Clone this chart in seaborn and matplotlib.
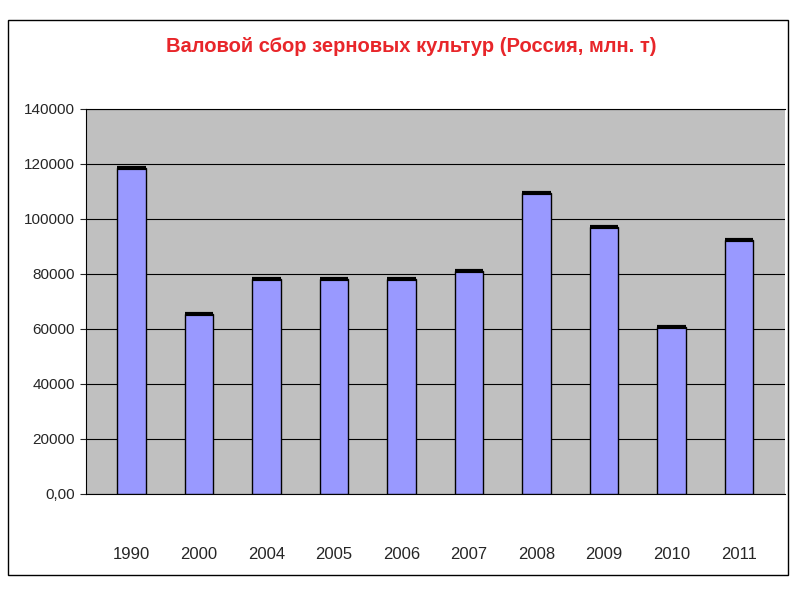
import matplotlib
matplotlib.use("Agg")
import matplotlib.pyplot as plt
import seaborn as sns
import pandas as pd

years = ["1990","2000","2004","2005","2006","2007","2008","2009","2010","2011"]
values = [118500, 65500, 78000, 78000, 78000, 81000, 109500, 97000, 60800, 92300]
yticks = [0,20000,40000,60000,80000,100000,120000,140000]
ylabels = ["0,00","20000","40000","60000","80000","100000","120000","140000"]

df = pd.DataFrame({"year": years, "value": values})
sns.set_style("white")
fig = plt.figure(figsize=(8,6), dpi=100)
fig.patches.append(plt.Rectangle((0.01,0.042),0.975,0.925, transform=fig.transFigure,
                                 fill=False, ec="black", lw=1))
ax = fig.add_axes([0.107, 0.177, 0.874, 0.642])
ax.set_facecolor("#c0c0c0")
sns.barplot(data=df, x="year", y="value", color="#9999ff", width=0.42,
            edgecolor="black", linewidth=1, saturation=1, ax=ax, zorder=3)
for p in ax.patches:
    ax.plot([p.get_x(), p.get_x()+p.get_width()], [p.get_height()]*2, color="black", lw=3, zorder=4, solid_capstyle="butt")
ax.set_ylim(0,140000)
ax.set_yticks(yticks)
ax.set_yticklabels(ylabels, fontsize=11, family="Liberation Sans")
ax.set_xticklabels(years, fontsize=12, family="Liberation Sans")
ax.tick_params(axis="x", pad=38, length=0)
ax.tick_params(axis="y", length=4, left=True)
ax.grid(axis="y", color="black", lw=0.8, zorder=0)
ax.set_axisbelow(True)
ax.set_xlabel(""); ax.set_ylabel("")
for s in ax.spines.values():
    s.set_color("black")
ax.spines["right"].set_visible(False)
fig.text(0.514, 0.922, "Валовой сбор зерновых культур (Россия, млн. т)", color="#e8262a",
         ha="center", va="center", fontsize=14.5, fontweight="bold", family="Liberation Sans")
fig.savefig("out.png")
